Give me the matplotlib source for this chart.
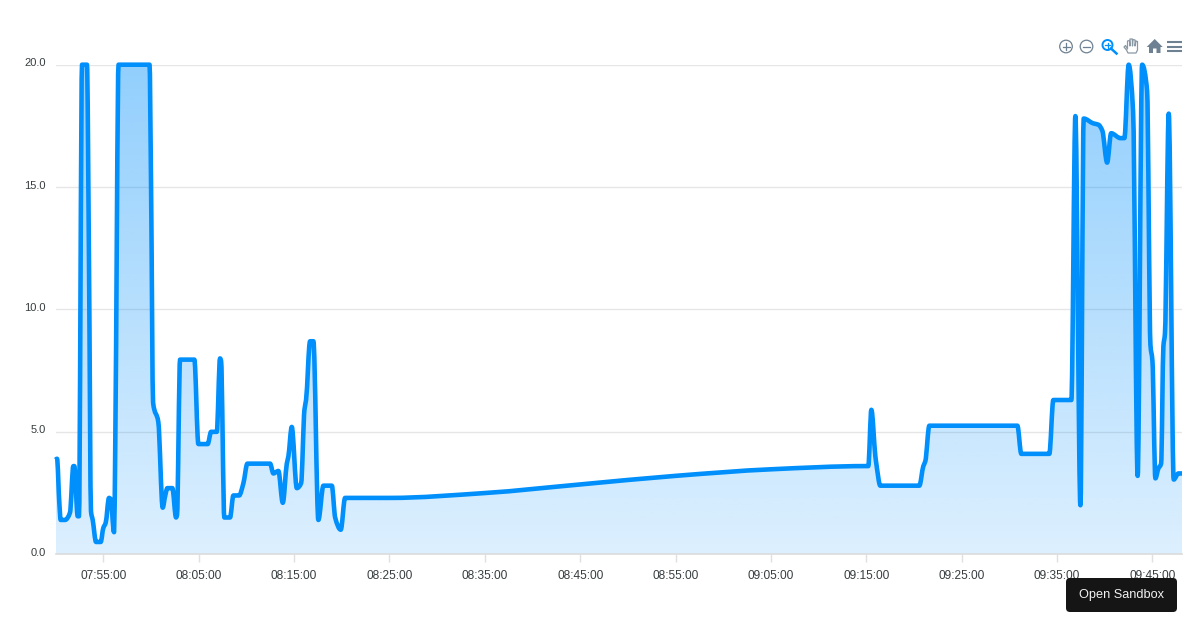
import numpy as np
import matplotlib
matplotlib.use("Agg")
import matplotlib.pyplot as plt
from matplotlib.patches import Circle, FancyBboxPatch, PathPatch, Polygon
from matplotlib.path import Path
from matplotlib.transforms import ScaledTranslation

plt.rcParams['font.family'] = ['Liberation Sans', 'DejaVu Sans']

# minutes after 07:50:00
minutes = [0.0, 0.15, 0.39, 0.53, 0.99, 1.51, 1.86, 1.96, 2.32, 2.45, 2.77, 3.29, 3.50, 3.71, 3.89,
           4.24, 4.73, 5.0, 5.25, 5.60, 5.78, 6.13, 6.26, 6.60, 9.85, 10.01, 10.22, 10.77, 11.23,
           11.47, 11.72, 12.24, 12.63, 12.73, 13.05, 14.55, 14.97, 15.95, 16.30, 16.90, 17.24,
           17.35, 17.69, 18.29, 18.64, 19.24, 19.69, 20.11, 22.49, 22.83, 23.36, 23.82, 24.24,
           24.41, 24.76, 25.29, 25.74, 26.09, 26.26, 26.68, 27.03, 27.55, 28.08, 28.96, 29.31,
           29.90, 30.35, 35.07, 45.04, 55.0, 64.97, 75.04, 85.0, 85.21, 85.53, 85.95, 86.05,
           86.47, 90.56, 90.98, 91.19, 91.61, 100.84, 101.25, 104.19, 104.61, 106.5, 106.92,
           107.45, 107.79, 108.81, 109.33, 109.75, 110.25, 110.67, 111.64, 112.06, 112.51,
           112.97, 113.45, 113.92, 114.44, 114.79, 115.0, 115.31, 115.62, 115.91, 116.15,
           116.31, 116.71, 117.23, 117.73, 118.1]
values = [3.86, 3.9, 2.1, 1.4, 1.4, 1.7, 3.6, 3.6, 1.55, 1.55, 20, 20, 12, 1.75, 1.4,
          0.5, 0.5, 1.07, 1.28, 2.3, 2.25, 0.9, 4.67, 20, 20, 15, 6.2, 5.4, 1.9,
          2.35, 2.7, 2.7, 1.5, 1.6, 7.95, 7.95, 4.5, 4.5, 5.0, 5.0, 8.0,
          7.9, 1.5, 1.5, 2.4, 2.4, 2.9, 3.7, 3.7, 3.3, 3.4, 2.1, 3.7,
          4.0, 5.2, 2.7, 2.9, 5.9, 6.3, 8.7, 8.7, 1.4, 2.8, 2.8, 1.5,
          1.0, 2.3, 2.3, 2.5, 2.85, 3.2, 3.47, 3.6, 3.6, 5.9, 4.0, 3.7,
          2.8, 2.8, 3.6, 3.8, 5.25, 5.25, 4.1, 4.1, 6.3, 6.3, 17.9,
          2.0, 17.8, 17.6, 17.55, 17.3, 16.0, 17.2, 17.0, 17.0, 20,
          18.1, 3.2, 20, 18.95, 8.55, 7.9, 3.1, 3.5, 3.7, 8.5,
          9.0, 18.0, 3.05, 3.3, 3.3]

x_ticks = [5, 15, 25, 35, 45, 55, 65, 75, 85, 95, 105, 115]
x_labels = ['07:55:00', '08:05:00', '08:15:00', '08:25:00', '08:35:00', '08:45:00',
            '08:55:00', '09:05:00', '09:15:00', '09:25:00', '09:35:00', '09:45:00']
y_ticks = [0, 5, 10, 15, 20]
y_labels = ['0.0', '5.0', '10.0', '15.0', '20.0']

BLUE = '#008FFB'
GREY = '#6E8192'
W, H = 1200, 630


def smooth_path(xs, ys):
    # monotone cubic through the points, same idea as the "smooth" stroke in the chart
    xs = np.asarray(xs, float)
    ys = np.asarray(ys, float)
    h = np.diff(xs)
    d = np.diff(ys) / h
    m = np.zeros(len(xs))
    m[0], m[-1] = d[0], d[-1]
    for i in range(1, len(xs) - 1):
        if d[i - 1] * d[i] > 0:
            w1 = 2 * h[i] + h[i - 1]
            w2 = h[i] + 2 * h[i - 1]
            m[i] = (w1 + w2) / (w1 / d[i - 1] + w2 / d[i])
    verts = [(xs[0], ys[0])]
    codes = [Path.MOVETO]
    for i in range(len(h)):
        verts.append((xs[i] + h[i] / 3, ys[i] + m[i] * h[i] / 3))
        verts.append((xs[i + 1] - h[i] / 3, ys[i + 1] - m[i + 1] * h[i] / 3))
        verts.append((xs[i + 1], ys[i + 1]))
        codes += [Path.CURVE4, Path.CURVE4, Path.CURVE4]
    return verts, codes


fig = plt.figure(figsize=(W / 100, H / 100), dpi=100, facecolor='white')
ax = fig.add_axes([55.6 / W, (H - 554.2) / H, (1182 - 55.6) / W, (554.2 - 64.7) / H])

ax.set_yticks(y_ticks)
ax.set_yticklabels(y_labels)
ax.set_xticks(x_ticks)
ax.set_xticklabels(x_labels)
ax.tick_params(axis='y', length=0, pad=7, labelsize=8, labelcolor='#373d3f')
ax.tick_params(axis='x', length=6, width=1, color='#e0e0e0', pad=5.5, labelsize=8.6, labelcolor='#373d3f')
for lab in ax.get_yticklabels():
    lab.set_transform(lab.get_transform() + ScaledTranslation(0, 1.8 / 72, fig.dpi_scale_trans))
ax.grid(axis='y', color='#e6e6e6', lw=1)
ax.set_axisbelow(True)
for name, sp in ax.spines.items():
    sp.set_visible(name == 'bottom')
ax.spines['bottom'].set_color('#dcdcdc')
ax.spines['bottom'].set_linewidth(1.2)

verts, codes = smooth_path(minutes, values)

# area gradient, clipped to the series shape
area_path = Path(verts + [(minutes[-1], 0), (minutes[0], 0), (minutes[0], values[0])],
                 codes + [Path.LINETO, Path.LINETO, Path.CLOSEPOLY])
grad = np.zeros((256, 1, 4))
grad[..., 0] = 0 / 255
grad[..., 1] = 143 / 255
grad[..., 2] = 251 / 255
grad[..., 3] = np.linspace(0.43, 0.14, 256).reshape(-1, 1)
im = ax.imshow(grad, extent=[0, 118.1, 0, 20], origin='upper', aspect='auto', zorder=2, interpolation='bilinear')
im.set_clip_path(area_path, transform=ax.transData)
ax.set_xlim(0, 118.1)
ax.set_ylim(0, 20)

ax.add_patch(PathPatch(Path(verts, codes), fc='none', ec=BLUE, lw=3.3, zorder=3, clip_on=False,
                       joinstyle='round', capstyle='butt'))

# toolbar and button, in pixel coordinates
ov = fig.add_axes([0, 0, 1, 1], zorder=10)
ov.set_xlim(0, W)
ov.set_ylim(H, 0)
ov.axis('off')

ov.add_patch(Circle((1066, 46.5), 6.3, fc='none', ec=GREY, lw=0.9))
ov.plot([1062.5, 1069.5], [46.5, 46.5], color=GREY, lw=0.9)
ov.plot([1066, 1066], [43, 50], color=GREY, lw=0.9)
ov.add_patch(Circle((1086.5, 46.5), 6.3, fc='none', ec=GREY, lw=0.9))
ov.plot([1083, 1090], [46.5, 46.5], color=GREY, lw=0.9)

ov.add_patch(Circle((1107.5, 45), 5, fc='none', ec=BLUE, lw=1.4))
ov.plot([1111, 1116.5], [48.5, 53.5], color=BLUE, lw=1.8)
ov.plot([1105, 1110], [45, 45], color=BLUE, lw=0.9)
ov.plot([1107.5, 1107.5], [42.5, 47.5], color=BLUE, lw=0.9)

# hand
hand = [(1124, 47), (1126.5, 50), (1128, 53), (1136, 53), (1137.5, 50), (1137.5, 41.5),
        (1136, 41), (1135, 46), (1135, 40), (1133, 39.5), (1132.5, 46), (1132.3, 39),
        (1130, 39), (1130, 46), (1129.5, 40.5), (1127.5, 41), (1127.5, 49), (1125.5, 45.5)]
ov.add_patch(Polygon(hand, closed=True, fc='white', ec='#8a98a4', lw=0.9, joinstyle='round'))

# home
home = [(1146.7, 47), (1154.7, 39), (1162.7, 47), (1160.5, 47), (1160.5, 53), (1156.5, 53),
        (1156.5, 48.5), (1153, 48.5), (1153, 53), (1149, 53), (1149, 47)]
ov.add_patch(Polygon(home, closed=True, fc=GREY, ec='none'))

for yy in [41.7, 46.5, 51.2]:
    ov.plot([1167, 1182], [yy, yy], color=GREY, lw=1.5, solid_capstyle='butt')

ov.add_patch(FancyBboxPatch((1066, 578), 111, 34, boxstyle='round,pad=0,rounding_size=4',
                            mutation_aspect=1, fc='#151515', ec='none'))
ov.text(1121.5, 595, 'Open Sandbox', color='#f2f2f2', fontsize=9.2, ha='center', va='center')

fig.savefig('out.png', dpi=100)
